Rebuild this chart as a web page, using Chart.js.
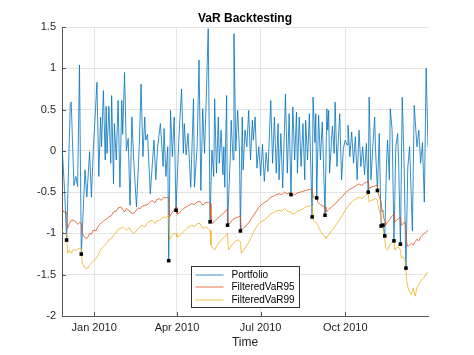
<!DOCTYPE html>
<html><head><meta charset="utf-8">
<script src="https://cdn.jsdelivr.net/npm/chart.js@4.4.1/dist/chart.umd.min.js"></script>
<style>html,body{margin:0;padding:0;background:#fff;}#wrap{width:474px;height:355px;position:relative}</style>
</head><body><div id="wrap"><canvas id="c" width="474" height="355"></canvas></div>
<script>
const chartTitle = 'VaR Backtesting';
const xAxisTitle = 'Time';
const seriesNames = ['Portfolio', 'FilteredVaR95', 'FilteredVaR99'];
// x values: days since 1 Jan 2010
const tickDays = [0, 90, 181, 273];
const tickLabels = ['Jan 2010', 'Apr 2010', 'Jul 2010', 'Oct 2010'];
const yTicks = [-2, -1.5, -1, -0.5, 0, 0.5, 1, 1.5];

const portfolioDays = [
-35,-32,-30,-26,-25,-22,-20,-18,-16,-14,-10,-8,-5,-3,-1,3,5,7,8,10,
12,13,14,16,18,19,21,22,24,26,28,30,31,33,35,37,39,41,43,46,
49,51,53,55,56,58,61,65,67,69,72,75,76,78,80,81,83,85,87,89,
92,95,97,98,100,102,105,108,109,112,114,116,118,120,122,124,126,128,130,131,
133,135,136,138,140,141,142,144,145,148,149,151,152,154,156,158,159,161,162,164,
166,168,170,172,173,175,177,179,181,183,185,187,189,192,194,196,198,200,201,203,
205,208,210,212,214,216,218,220,221,223,225,227,229,230,232,234,237,238,240,241,
242,244,246,248,249,251,253,254,255,256,259,261,262,264,267,269,271,273,275,276,
278,280,282,284,286,288,290,292,294,296,298,299,301,303,305,306,308,310,312,314,
316,318,319,321,322,324,326,328,330,331,333,335,337,339,341,343,346,348,351,353,
355,357,359,361,363];
const portfolioValues = [
0.07,-0.52,-1.08,0.57,0.59,-0.42,-0.31,-0.43,1.04,-1.25,-0.23,-0.56,-0.01,-0.56,0.00,0.83,-0.31,0.41,0.05,0.73,
-0.11,0.54,-0.03,0.54,-0.15,0.67,-0.40,0.33,-0.11,0.61,-0.44,0.61,0.20,0.95,0.00,0.15,-0.66,0.41,-0.11,-0.68,
0.05,0.81,-0.07,0.41,0.13,0.20,-0.52,0.13,-0.35,0.05,0.33,-0.19,0.27,-0.31,0.05,-1.33,0.49,-0.07,0.41,-0.72,
0.13,0.75,-0.03,0.33,-0.05,0.21,-0.44,0.63,-0.44,0.05,1.10,-0.48,0.51,-0.03,0.69,1.48,-0.86,0.01,-0.31,0.63,
-0.27,0.41,-0.15,0.25,-0.29,0.05,-0.44,0.67,-0.90,-0.07,0.37,-0.11,1.42,0.00,0.49,0.00,-0.97,0.41,-0.23,0.25,
0.05,0.49,-0.11,0.37,0.13,0.41,-0.21,0.05,-0.30,0.08,-0.37,-0.02,-0.25,0.61,-0.15,0.41,-0.27,0.33,-0.35,0.21,
-0.45,0.69,-0.27,0.45,-0.53,0.53,-0.11,0.47,-0.27,0.41,-0.19,0.33,-0.35,0.37,-0.11,0.45,-0.80,0.65,0.10,0.45,
-0.57,0.43,-0.11,0.35,0.00,-0.78,0.51,0.25,0.49,-0.27,0.30,-0.03,0.59,-0.19,0.45,-0.35,0.03,0.13,0.07,0.31,
-0.07,0.23,-0.15,0.17,-0.35,0.25,-0.19,0.05,-0.29,0.09,-0.50,0.65,-0.35,0.05,0.41,0.00,-0.48,0.21,-0.91,-0.90,
-1.03,-0.11,0.13,-0.35,0.51,0.25,-1.09,0.05,0.21,-0.11,-1.13,0.65,-0.15,-1.42,-0.20,0.05,-0.97,0.55,0.05,0.25,
-0.15,0.10,-0.62,1.00,0.05];

const varDays = [
-35,-33,-30,-29,-27,-25,-22,-20,-18,-16,-14,-13,-11,-9,-7,-5,-3,-1,2,4,
6,9,11,14,16,19,21,24,26,29,31,33,35,38,40,43,45,48,50,52,
55,58,61,63,66,68,71,73,76,78,81,82,84,86,88,89,90,92,95,97,
100,103,106,109,112,115,118,121,124,126,127,129,131,134,137,140,142,145,146,148,
151,154,157,159,160,162,165,168,171,174,177,180,183,186,189,192,195,198,201,204,
207,210,212,214,215,218,221,224,227,230,233,237,238,240,242,243,246,249,251,252,
255,258,261,264,267,270,273,276,279,282,285,288,291,294,296,298,299,301,304,306,
308,309,310,312,313,314,315,316,317,319,321,323,325,326,327,329,331,333,334,336,
338,339,340,341,343,345,347,349,351,353,355,357,359,361,363];
const var95 = [
-0.70,-0.74,-0.74,-0.94,-0.88,-0.84,-0.84,-0.86,-0.89,-0.87,-0.88,-1.00,-1.04,-1.06,-1.05,-1.00,-1.01,-0.96,-0.97,-0.92,
-0.89,-0.86,-0.84,-0.82,-0.80,-0.78,-0.74,-0.73,-0.69,-0.68,-0.71,-0.74,-0.70,-0.72,-0.75,-0.76,-0.73,-0.69,-0.70,-0.67,
-0.66,-0.65,-0.62,-0.60,-0.63,-0.59,-0.58,-0.60,-0.56,-0.57,-0.56,-0.80,-0.76,-0.73,-0.70,-0.68,-0.76,-0.76,-0.72,-0.70,
-0.68,-0.66,-0.64,-0.65,-0.62,-0.61,-0.66,-0.63,-0.62,-0.64,-0.86,-0.88,-0.85,-0.82,-0.79,-0.76,-0.74,-0.70,-0.89,-0.87,
-0.83,-0.81,-0.80,-0.79,-0.96,-0.94,-0.91,-0.87,-0.82,-0.77,-0.72,-0.67,-0.64,-0.62,-0.60,-0.56,-0.55,-0.53,-0.52,-0.53,
-0.50,-0.52,-0.51,-0.50,-0.54,-0.53,-0.51,-0.50,-0.49,-0.48,-0.47,-0.46,-0.56,-0.57,-0.55,-0.62,-0.65,-0.67,-0.68,-0.74,
-0.71,-0.68,-0.65,-0.62,-0.58,-0.55,-0.51,-0.48,-0.46,-0.44,-0.42,-0.40,-0.42,-0.39,-0.38,-0.37,-0.46,-0.44,-0.43,-0.42,
-0.42,-0.52,-0.55,-0.62,-0.72,-0.74,-0.82,-0.84,-0.90,-0.86,-0.84,-0.80,-0.78,-0.76,-0.86,-0.84,-0.82,-0.80,-0.90,-0.88,
-0.86,-0.86,-1.12,-1.16,-1.14,-1.12,-1.14,-1.10,-1.07,-1.09,-1.04,-1.02,-1.00,-0.98,-0.96];
const var99 = [
-0.96,-1.00,-1.00,-1.24,-1.20,-1.24,-1.19,-1.21,-1.19,-1.18,-1.18,-1.36,-1.40,-1.43,-1.42,-1.38,-1.36,-1.34,-1.30,-1.27,
-1.22,-1.17,-1.15,-1.11,-1.08,-1.06,-1.02,-0.99,-0.95,-0.94,-0.92,-0.94,-0.96,-0.93,-0.97,-1.00,-0.98,-0.94,-0.92,-0.90,
-0.92,-0.87,-0.85,-0.84,-0.88,-0.85,-0.84,-0.82,-0.80,-0.81,-0.78,-1.08,-1.03,-1.01,-1.00,-1.00,-1.04,-1.04,-1.00,-0.98,
-0.95,-0.92,-0.90,-0.92,-0.88,-0.88,-0.94,-0.92,-0.94,-0.96,-1.14,-1.18,-1.20,-1.14,-1.09,-1.06,-1.04,-1.00,-1.20,-1.17,
-1.12,-1.09,-1.08,-1.10,-1.24,-1.21,-1.16,-1.11,-1.04,-0.97,-0.91,-0.87,-0.85,-0.83,-0.80,-0.76,-0.75,-0.73,-0.72,-0.73,
-0.70,-0.73,-0.74,-0.74,-0.76,-0.76,-0.73,-0.72,-0.70,-0.68,-0.67,-0.66,-0.84,-0.86,-0.87,-0.90,-0.97,-1.02,-1.04,-1.06,
-1.02,-0.97,-0.93,-0.88,-0.83,-0.78,-0.72,-0.67,-0.63,-0.60,-0.58,-0.56,-0.58,-0.55,-0.53,-0.52,-0.62,-0.60,-0.59,-0.58,
-0.60,-0.68,-0.72,-0.80,-0.88,-0.92,-1.02,-1.06,-1.18,-1.20,-1.15,-1.12,-1.09,-1.08,-1.20,-1.17,-1.16,-1.20,-1.30,-1.28,
-1.32,-1.32,-1.58,-1.65,-1.71,-1.74,-1.66,-1.76,-1.66,-1.62,-1.58,-1.55,-1.53,-1.49,-1.46];

const failDays = [-30,-14,81,89,126,145,159,214,237,242,251,298,308,312,314,316,326,333,339];
const failValues = [-1.08,-1.25,-1.33,-0.72,-0.86,-0.90,-0.97,-0.53,-0.80,-0.57,-0.78,-0.50,-0.48,-0.91,-0.90,-1.03,-1.09,-1.13,-1.42];

const colors = ['#0072BD', '#D95319', '#EDB120'];
const FONT = '"Liberation Sans", Arial, Helvetica, sans-serif';
const toXY = (xs, ys) => xs.map((x, i) => ({ x: x, y: ys[i] }));

const matlabDecor = {
  id: 'matlabDecor',
  afterDraw(chart) {
    const ctx = chart.ctx, a = chart.chartArea;
    const xs = chart.scales.x, ys = chart.scales.y;
    ctx.save();
    // inward ticks
    ctx.strokeStyle = '#555'; ctx.lineWidth = 1;
    ctx.beginPath();
    tickDays.forEach(d => { const p = Math.round(xs.getPixelForValue(d)) + 0.5; ctx.moveTo(p, a.bottom); ctx.lineTo(p, a.bottom - 4); });
    yTicks.forEach(v => { const p = Math.round(ys.getPixelForValue(v)) + 0.5; ctx.moveTo(a.left, p); ctx.lineTo(a.left + 4, p); });
    ctx.stroke();
    // title and axis title
    const cx = (a.left + a.right) / 2;
    ctx.fillStyle = '#000'; ctx.textAlign = 'center'; ctx.textBaseline = 'alphabetic';
    ctx.font = 'bold 12px ' + FONT;
    ctx.fillText(chartTitle, cx, 22);
    ctx.fillStyle = '#262626';
    ctx.font = '12px ' + FONT;
    ctx.fillText(xAxisTitle, cx, 346);
    // legend (location: south, inside axes)
    ctx.font = '10px ' + FONT;
    const tw = Math.max(...seriesNames.map(s => ctx.measureText(s).width));
    const w = Math.round(4 + 28 + 8 + tw + 5), h = 41, rowH = 12.7;
    const x0 = Math.round(cx - w / 2) + 0.5, y0 = Math.round(a.bottom - 9 - h) + 0.5;
    ctx.fillStyle = '#fff'; ctx.fillRect(x0, y0, w, h);
    ctx.strokeStyle = '#333'; ctx.lineWidth = 1; ctx.strokeRect(x0, y0, w, h);
    seriesNames.forEach((s, i) => {
      const cy = y0 + 8 + i * rowH;
      ctx.strokeStyle = colors[i]; ctx.lineWidth = 0.8; ctx.beginPath();
      ctx.moveTo(x0 + 4, Math.round(cy)); ctx.lineTo(x0 + 32, Math.round(cy)); ctx.stroke();
      ctx.fillStyle = '#000'; ctx.textAlign = 'left'; ctx.textBaseline = 'middle';
      ctx.fillText(s, x0 + 40, cy + 0.5);
    });
    ctx.restore();
  }
};

new Chart(document.getElementById('c'), {
  type: 'line',
  data: {
    datasets: [
      { label: seriesNames[0], data: toXY(portfolioDays, portfolioValues), borderColor: colors[0], borderWidth: 0.8, pointRadius: 0, tension: 0, borderJoinStyle: 'round', order: 3 },
      { label: seriesNames[1], data: toXY(varDays, var95), borderColor: colors[1], borderWidth: 0.8, pointRadius: 0, tension: 0, borderJoinStyle: 'round', order: 2 },
      { label: seriesNames[2], data: toXY(varDays, var99), borderColor: colors[2], borderWidth: 0.8, pointRadius: 0, tension: 0, borderJoinStyle: 'round', order: 1 },
      { label: 'Failures', data: toXY(failDays, failValues), showLine: false, pointStyle: 'rect', pointRadius: 2.5, pointBackgroundColor: '#000', pointBorderColor: '#000', pointBorderWidth: 0, order: 0 }
    ]
  },
  options: {
    responsive: false, animation: false, devicePixelRatio: 1,
    layout: { padding: { top: 27, right: 46, left: 0, bottom: 0 } },
    plugins: { legend: { display: false }, tooltip: { enabled: false }, title: { display: false } },
    scales: {
      x: {
        type: 'linear', min: -35, max: 363,
        afterBuildTicks: s => { s.ticks = tickDays.map(v => ({ value: v })); },
        afterFit: s => { s.height = 39; },
        ticks: { callback: v => { const i = tickDays.indexOf(v); return i >= 0 ? tickLabels[i] : ''; }, font: { size: 11, family: FONT }, color: '#262626', padding: 5, maxRotation: 0, autoSkip: false },
        grid: { color: '#e4e4e4', drawTicks: false },
        border: { color: '#555', width: 1 }
      },
      y: {
        min: -2, max: 1.5,
        afterBuildTicks: s => { s.ticks = yTicks.map(v => ({ value: v })); },
        afterFit: s => { s.width = 62; },
        ticks: { callback: v => String(v), font: { size: 11, family: FONT }, color: '#262626', padding: 6 },
        grid: { color: '#e4e4e4', drawTicks: false },
        border: { color: '#555', width: 1 }
      }
    }
  },
  plugins: [matlabDecor]
});
</script></body></html>
